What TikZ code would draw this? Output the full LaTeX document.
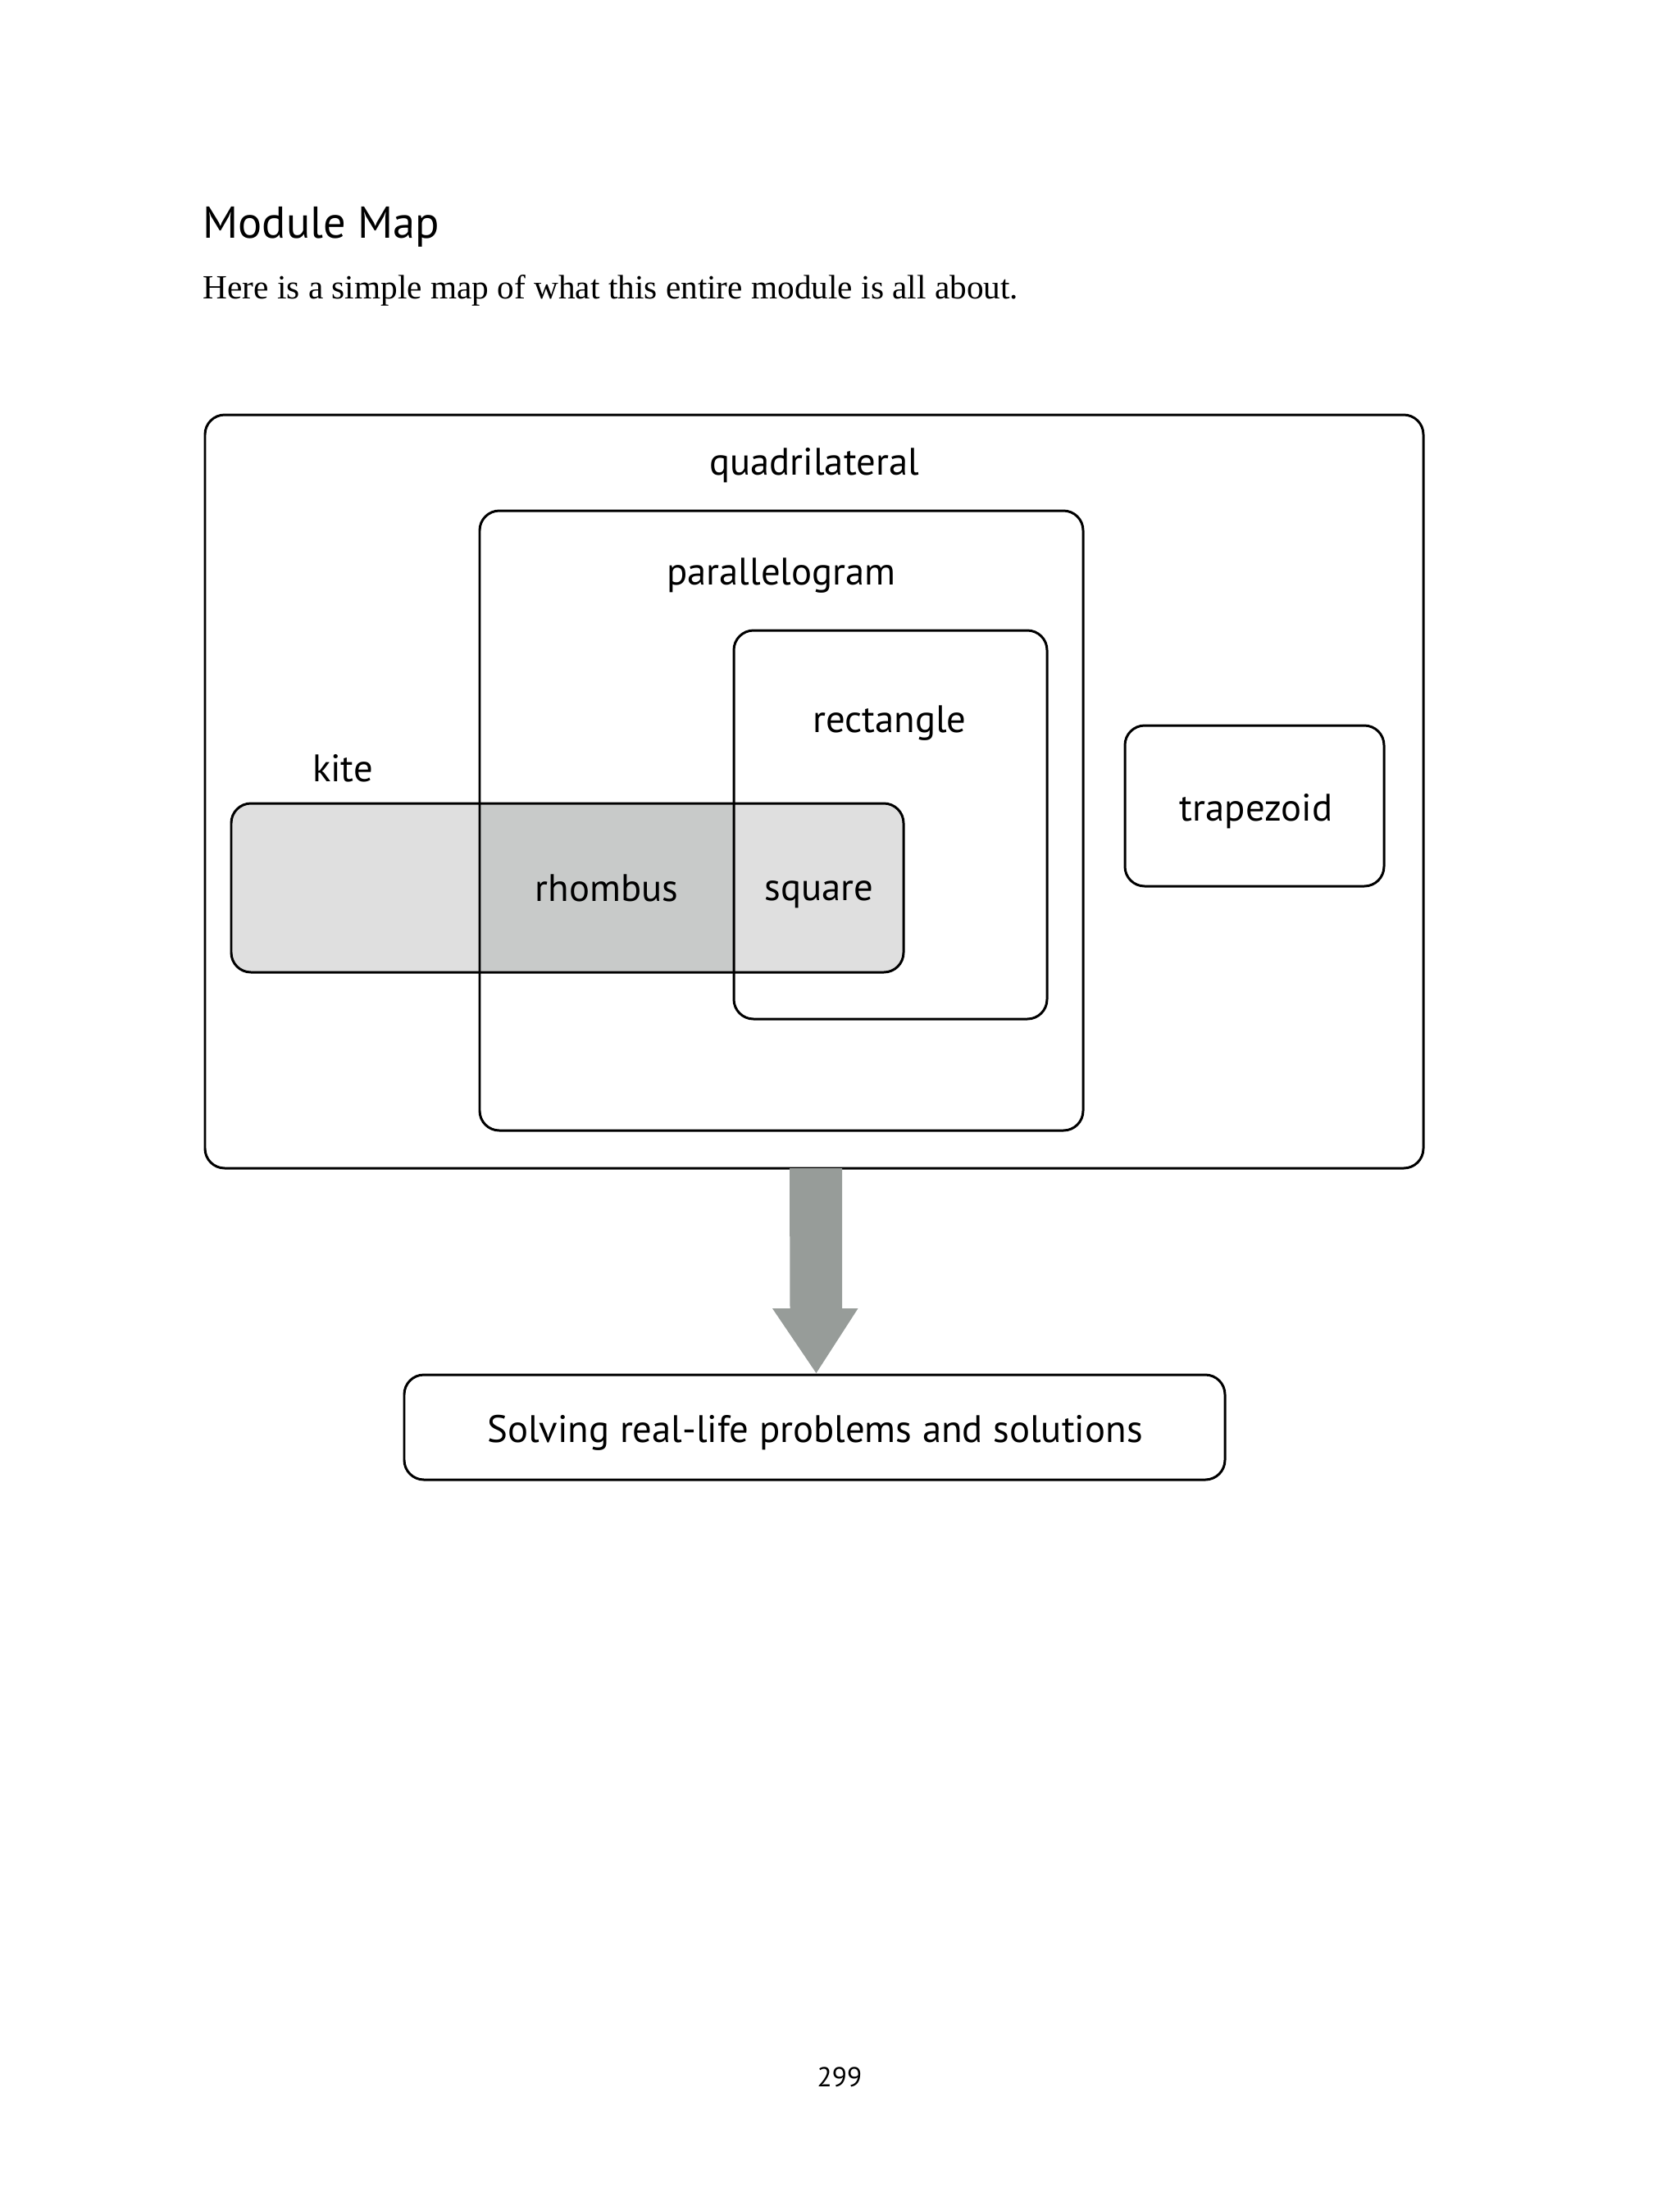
\documentclass[tikz,border=0pt]{standalone}
\usepackage{fontspec}
\setmainfont{Liberation Serif}
\setsansfont{PT Sans}
\usetikzlibrary{calc,positioning}

\definecolor{kitegray}{RGB}{223,223,223}
\definecolor{rhombgray}{RGB}{200,202,201}
\definecolor{arrowgray}{RGB}{151,156,153}

\tikzset{
    setbox/.style={draw, line width=0.85pt, rounded corners=0.24cm,
        inner sep=0pt, outer sep=0pt},
    setlabel/.style={font=\sffamily\fontsize{13.3}{16}\selectfont,
        inner sep=0pt, anchor=base},
}

\begin{document}
\begin{tikzpicture}
            \useasboundingbox (0,0) rectangle (20.48,-26.69);

            % Ueberschrift und Einleitung
            \node[font=\sffamily\fontsize{15.5}{18}\selectfont, inner sep=0pt, anchor=base west]
                (title) at (2.47,-2.90) {Module Map};
            \node[font=\fontsize{11.75}{14}\selectfont, inner sep=0pt, anchor=base west]
                (intro) at (2.47,-3.64) {Here is a simple map of what this entire module is all about.};

            % Drachen (kite) mit Flaeche
            \node[setbox, fill=kitegray, minimum width=8.20cm, minimum height=2.06cm]
                (kite) at (6.92,-10.83) {};

            % Raute = Drachen geschnitten mit Parallelogramm
            \coordinate (r0) at ($(5.85,-9.80)+(0,-0.45pt)$);
            \coordinate (r1) at ($(8.95,-11.86)+(0,0.45pt)$);
            \fill[rhombgray] (r0) rectangle (r1);

            % Vierecke
            \node[setbox, minimum width=14.86cm, minimum height=9.19cm]
                (quad) at (9.93,-9.655) {};
            \node[setbox, minimum width=7.36cm, minimum height=7.56cm]
                (para) at (9.53,-10.01) {};
            \node[setbox, minimum width=3.82cm, minimum height=4.74cm]
                (rect) at (10.86,-10.06) {};
            \node[setbox, minimum width=3.16cm, minimum height=1.96cm]
                (trap) at (15.30,-9.83) {};

            % Beschriftungen
            \node[setlabel] (quadtxt) at (9.93,-5.79) {quadrilateral};
            \node[setlabel] (paratxt) at (9.53,-7.13) {parallelogram};
            \node[setlabel] (recttxt) at (10.85,-8.93) {rectangle};
            \node[setlabel] (kitetxt) at (4.18,-9.53) {kite};
            \node[setlabel] (rhombtxt) at (7.40,-10.99) {rhombus};
            \node[setlabel] (squaretxt) at (9.99,-10.98) {square};
            \node[setlabel] (traptxt) at (15.32,-10.01) {trapezoid};

            % Anwendung unten
            \node[setbox, minimum width=10.01cm, minimum height=1.28cm]
                (solve) at (9.935,-17.41) {};
            \node[setlabel] (solvetxt) at (9.94,-17.59) {Solving real-life problems and solutions};

            % Pfeil vom Viereck zur Anwendung
            \fill[arrowgray] ($(quad.south)+(-0.30,0)$) -- ++(0.64,0) -- ++(0,-1.71)
                -- ++(0.195,0) -- ($(solve.north)+(0.02,0.02)$) -- ($(solve.north)+(-0.515,0.81)$)
                -- ++(0.215,0) -- cycle;

            % Seitenzahl
            \node[font=\sffamily\fontsize{9.5}{11}\selectfont, inner sep=0pt, anchor=base]
                (pagenum) at (10.24,-25.45) {299};
        \end{tikzpicture}
\end{document}
